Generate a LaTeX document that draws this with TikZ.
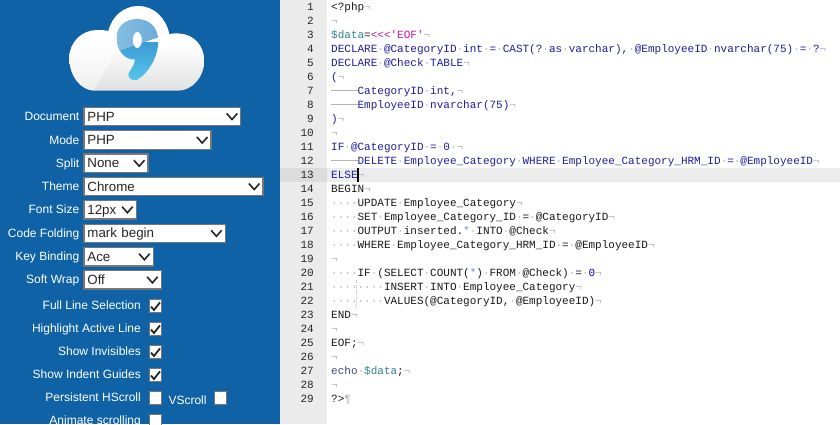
\documentclass[tikz,border=0pt]{standalone}
\usepackage{fontspec}
\setmainfont{Liberation Sans}
\setmonofont{Liberation Mono}
\usetikzlibrary{positioning}
\usetikzlibrary{calc}

\definecolor{sidebar}{HTML}{0F62A6}
\definecolor{gutter}{HTML}{EBEBEB}
\definecolor{gutteractive}{HTML}{DCDCDC}
\definecolor{lineactive}{HTML}{ECECEC}
\definecolor{boxgray}{HTML}{767676}
\definecolor{invis}{HTML}{B4B4B4}
\definecolor{codeblue}{HTML}{1E1E9E}
\definecolor{codeteal}{HTML}{318495}
\definecolor{codepink}{HTML}{C4169A}
\definecolor{codeecho}{HTML}{3C4C72}
\definecolor{codestar}{HTML}{6C8FD0}
\definecolor{codenum}{HTML}{0000CD}
\definecolor{ninetop}{HTML}{6AA8D8}
\definecolor{ninemid}{HTML}{88C0E2}
\definecolor{ninelow}{HTML}{3C9BD5}
\definecolor{ninetail}{HTML}{58C8EC}

\tikzset{
    sidelabel/.style={text=white, font=\fontsize{12}{14}\selectfont, inner sep=0,
        text height=8.6pt, text depth=0.5pt},
    selectbox/.style={draw=boxgray, line width=1.2pt, fill=white, anchor=west,
        minimum height=18.4pt, inner xsep=3.5pt, inner ysep=0, text=black!85,
        font=\fontsize{13.33}{15}\selectfont, text height=9.5pt, text depth=0.5pt, align=left},
    chevron/.style={draw=black!85, line width=1.6pt},
    checkbox/.style={draw=boxgray, line width=1.1pt, fill=white, inner sep=0,
        minimum size=12.2pt},
    tick/.style={draw=black!85, line width=1.8pt},
    codeline/.style={anchor=base west, inner sep=0, text=black!90,
        font=\fontsize{11}{14}\ttfamily},
    linenum/.style={anchor=base east, inner sep=0, text=black!85,
        font=\fontsize{11}{14}\ttfamily},
}

\newcommand{\dt}{\textcolor{invis}{·}}
\newcommand{\eol}{\textcolor{invis}{¬}}
\newcommand{\tabm}{\textcolor{invis}{\rule[3.4pt]{26.4pt}{0.5pt}}}
\newcommand{\ind}{\dt\dt\dt\dt}
\newcommand{\blue}[1]{\textcolor{codeblue}{#1}}

% label, box and arrow of one drop-down
\newcommand{\selectrow}[5]{
    \node [selectbox, text width={#4-8.2pt}] (#1 box) at (83.3,#5) {#3};
    \node [sidelabel, anchor=east] (#1 label) at (79.5,#5) {#2};
    \draw [chevron] ([shift={(-14.6,-3)}]#1 box.east) -- ++(5.3,6) -- ++(5.3,-6);
}
\newcommand{\checkrow}[3]{
    \node [checkbox] (#1 box) at (155.5,#3) {};
    \node [sidelabel, anchor=east] (#1 label) at (141,{#3-0.3}) {#2};
}
\newcommand{\tickbox}[1]{
    \draw [tick] ([shift={(-4.5,0.6)}]#1 box.center) -- ++(3,3.4) -- ++(6,-7.6);
}
\newcommand{\codeat}[2]{
    \node [codeline] (code #1) at (331,{14*#1-4}) {#2};
}

\begin{document}
\begin{tikzpicture}[x=1pt,y=-1pt]

\clip (0,0) rectangle (840,424);

% Panels
\fill [white] (0,0) rectangle (840,424);
\fill [sidebar] (0,0) rectangle (280,424);
\fill [gutter] (280,0) rectangle (327,424);
\fill [lineactive] (327,168) rectangle (840,182);
\fill [gutteractive] (280,168) rectangle (327,182);

% Logo
\begin{scope}
    \clip (95,90.7) .. controls (80,90.7) and (69.3,75) .. (69.3,58)
        .. controls (69.3,42) and (82,30) .. (97,30)
        .. controls (102,30) and (105,30) .. (108.3,31)
        .. controls (112,16) and (124,6) .. (138.3,6)
        .. controls (154,6) and (166,18) .. (169.3,34)
        .. controls (173,33.5) and (176,33) .. (179,33.5)
        .. controls (194,34) and (204.3,46) .. (204.3,61)
        .. controls (204.3,77) and (192,90.7) .. (178,90.7) -- cycle;
    \fill [white] (60,0) rectangle (215,45);
    \shade [top color=white, bottom color=black!12] (60,45) rectangle (215,91);
    \fill [white, opacity=0.45] (60,95) -- (91,95) -- (120,45) -- (60,45) -- cycle;
\end{scope}
\begin{scope}
    \clip (137,19) .. controls (150,19) and (158.3,28) .. (158.3,41)
        .. controls (158.3,55) and (150,72) .. (137,80)
        .. controls (133,81) and (129,79) .. (128.3,75)
        .. controls (129,70) and (135,66) .. (135,59.5)
        .. controls (124,60) and (116.7,50) .. (116.7,37)
        .. controls (116.7,27) and (125,19) .. (137,19);
    \shade [top color=ninelow, bottom color=ninetail] (110,42) rectangle (165,82);
    \shade [left color=ninemid, right color=ninetop]
        (110,15) -- (165,15) -- (165,35) -- (110,54) -- cycle;
\end{scope}
\fill [white] (137.3,40) ellipse (4.5 and 8);

% Drop-downs
\selectrow{document}{Document}{PHP}{158pt}{116.5}
\selectrow{mode}{Mode}{PHP}{128.2pt}{140}
\selectrow{split}{Split}{None}{65.2pt}{163.2}
\selectrow{theme}{Theme}{Chrome}{180.2pt}{186.5}
\selectrow{font size}{Font Size}{12px}{53.4pt}{209.7}
\selectrow{folding}{Code Folding}{mark begin}{142.4pt}{233.3}
\selectrow{binding}{Key Binding}{Ace}{70.4pt}{256.7}
\selectrow{wrap}{Soft Wrap}{Off}{78.4pt}{279.8}

% Check boxes
\checkrow{full}{Full Line Selection}{306}
\checkrow{active}{Highlight Active Line}{329}
\checkrow{invisibles}{Show Invisibles}{352}
\checkrow{guides}{Show Indent Guides}{375}
\checkrow{hscroll}{Persistent HScroll}{398}
\checkrow{animate}{Animate scrolling}{421}
\tickbox{full}
\tickbox{active}
\tickbox{invisibles}
\tickbox{guides}
\node [checkbox] (vscroll box) at (220.5,398) {};
\node [sidelabel, anchor=west] (vscroll label) at (168.3,400) {VScroll};

% Line numbers
\foreach \n in {1,...,29}
    \node [linenum] (num \n) at (314,{14*\n-4}) {\n};

% Code
\codeat{1}{<?php\eol}
\codeat{2}{\eol}
\codeat{3}{\textcolor{codeteal}{\$data}=\textcolor{codepink}{<{}<{}<'EOF'}\eol}
\codeat{4}{\blue{DECLARE\dt @CategoryID\dt int\dt =\dt CAST(?\dt as\dt varchar),\dt @EmployeeID\dt nvarchar(75)\dt =\dt ?}\eol}
\codeat{5}{\blue{DECLARE\dt @Check\dt TABLE}\eol}
\codeat{6}{\blue{(}\eol}
\codeat{7}{\tabm\blue{CategoryID\dt int,}\eol}
\codeat{8}{\tabm\blue{EmployeeID\dt nvarchar(75)}\eol}
\codeat{9}{\blue{)}\eol}
\codeat{10}{\eol}
\codeat{11}{\blue{IF\dt @CategoryID\dt =\dt 0\dt}\eol}
\codeat{12}{\tabm\blue{DELETE\dt Employee\_Category\dt WHERE\dt Employee\_Category\_HRM\_ID\dt =\dt @EmployeeID}\eol}
\codeat{13}{\blue{ELSE}\eol}
\codeat{14}{BEGIN\eol}
\codeat{15}{\ind UPDATE\dt Employee\_Category\eol}
\codeat{16}{\ind SET\dt Employee\_Category\_ID\dt =\dt @CategoryID\eol}
\codeat{17}{\ind OUTPUT\dt inserted.\textcolor{codestar}{*}\dt INTO\dt @Check\eol}
\codeat{18}{\ind WHERE\dt Employee\_Category\_HRM\_ID\dt =\dt @EmployeeID\eol}
\codeat{19}{\eol}
\codeat{20}{\ind IF\dt (SELECT\dt COUNT(\textcolor{codestar}{*})\dt FROM\dt @Check)\dt =\dt \textcolor{codenum}{0}\eol}
\codeat{21}{\ind\ind INSERT\dt INTO\dt Employee\_Category\eol}
\codeat{22}{\ind\ind VALUES(@CategoryID,\dt @EmployeeID)\eol}
\codeat{23}{END\eol}
\codeat{24}{\eol}
\codeat{25}{EOF;\eol}
\codeat{26}{\eol}
\codeat{27}{\textcolor{codeecho}{echo}\dt\textcolor{codeteal}{\$data};\eol}
\codeat{28}{\eol}
\codeat{29}{?>\textcolor{invis}{¶}}

% Cursor and indent guide
\fill [black] (357,168) rectangle (359,182);
\draw [invis, dotted] (356.6,280) -- (356.6,308);

\end{tikzpicture}
\end{document}
